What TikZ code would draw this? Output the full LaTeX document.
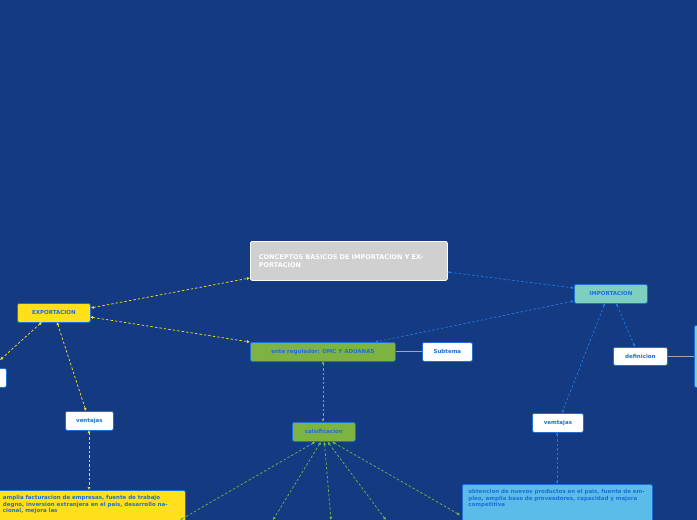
\documentclass[tikz,border=0pt]{standalone}
\usepackage{fontspec}
\setmainfont{DejaVu Sans}
\usetikzlibrary{arrows.meta}
\definecolor{bg}{HTML}{143A82}
\definecolor{txtb}{HTML}{1E6FD9}
\definecolor{yel}{HTML}{FFE01A}
\definecolor{grn}{HTML}{7CB342}
\definecolor{teal}{HTML}{7ECFC0}
\definecolor{lblue}{HTML}{5BBCEA}
\definecolor{ibl}{HTML}{1E7BE0}
\definecolor{gry}{HTML}{D0D0D0}
\tikzset{
 box/.style={draw=txtb,line width=0.8pt,rounded corners=2pt,font=\bfseries\fontsize{5.5}{6.5}\selectfont,text=txtb,anchor=north west,inner sep=0pt,align=center},
 lk/.style={dashed,dash pattern=on 2.5pt off 2pt,line width=0.7pt,{Latex[length=3pt,width=3pt]}-{Latex[length=3pt,width=3pt]}},
 sl/.style={draw=gray!70,line width=1pt}
}
\begin{document}
\begin{tikzpicture}[x=1pt,y=-1pt]
\useasboundingbox (0,0) rectangle (697,520);
\fill[bg] (0,0) rectangle (697,520);
\clip (0,0) rectangle (697,520);
\node[box,draw=white,fill=gry,text=white,minimum width=197,minimum height=39,text width=180,align=left,font=\bfseries\fontsize{6.5}{8}\selectfont] (t) at (250,241) {CONCEPTOS BASICOS DE IMPORTACION Y EXPORTACION};
\node[box,fill=yel,minimum width=73,minimum height=19] (ex) at (17,303) {EXPORTACION};
\node[box,fill=grn,minimum width=145,minimum height=19] (en) at (250,342) {ente regulador: OMC Y ADUANAS};
\node[box,fill=white,minimum width=50,minimum height=19] (su) at (422,342) {Subtema};
\node[box,fill=teal,minimum width=73,minimum height=19] (im) at (574,284) {IMPORTACION};
\node[box,fill=white,minimum width=54,minimum height=18] (de) at (613,347) {definicion};
\node[box,fill=teal,minimum width=20,minimum height=62] (dr) at (694,325) {};
\node[box,fill=white,minimum width=20,minimum height=19] (lp) at (-14,368) {};
\node[box,fill=white,minimum width=48,minimum height=19] (v1) at (65,411) {ventajas};
\node[box,fill=grn,minimum width=63,minimum height=19] (ca) at (292,422) {calsificacion};
\node[box,fill=white,minimum width=51,minimum height=19] (v2) at (532,413) {vemtajas};
\node[box,fill=yel,minimum width=187,minimum height=40,text width=178,align=left,anchor=north west] (yb) at (-2,490) {\raisebox{0pt}{}\\[-14pt]amplia facturacion de empresas, fuente de trabajo degno, inversion extranjera en el pais, desarrollo nacional, mejora las};
\node[box,fill=lblue,minimum width=190,minimum height=40,text width=178,align=left] (bb) at (462,484) {\\[-14pt]obtencion de nuevos productos en el pais, fuente de empleo, amplia base de proveedores, capacidad y mejora competitiva};
% links
\draw[lk,yel] (ex.east)++(0,-5) -- (t.west|-0,278);
\draw[lk,yel] (90,317) -- (250,342);
\draw[lk,yel] (42,322) -- (0,360);
\draw[lk,yel] (57,322) -- (86,411);
\draw[lk,yel] (89,430) -- (89,490);
\draw[lk,ibl] (447,272) -- (574,288);
\draw[lk,ibl] (574,301) -- (375,342);
\draw[lk,ibl] (605,303) -- (562,413);
\draw[lk,ibl] (616,303) -- (635,347);
\draw[lk,ibl] (557,432) -- (557,484);
\draw[lk,grn] (323,361) -- (323,422);
\draw[sl] (en.east) -- (su.west);
\draw[sl] (de.east) -- (dr.west|-de.east);
\foreach \x/\y in {180/520,273/520,331/520,386/520,460/515}{
 \draw[lk,grn] (ca.south) ++({(\x-323)*0.06},0) -- (\x,\y);
}
\end{tikzpicture}
\end{document}
